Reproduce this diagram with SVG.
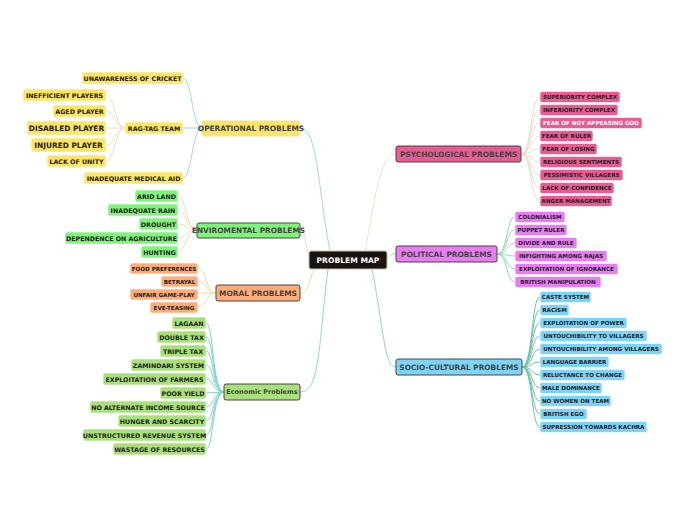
<svg xmlns="http://www.w3.org/2000/svg" width="697" height="520" viewBox="0 0 697 520">
<style>
text{font-family:"DejaVu Sans",Verdana,sans-serif;font-weight:bold;text-anchor:middle;dominant-baseline:central;fill:#222}
.lf{font-size:5.6px}
.lo{font-size:6.3px}
.mn{font-size:7.4px;fill:#444}
.c{fill:none;stroke-width:1}
rect{rx:2;ry:2}
.main{stroke:#444;stroke-width:1}
.y{fill:#ffe566}.g{fill:#80f47a}.o{fill:#ffac78}.e{fill:#a9e07c}.p{fill:#ea5a93}.v{fill:#e87cf2}.s{fill:#7ed4f8}
.leaf{stroke:#fff;stroke-width:.6}
</style>
<rect width="697" height="520" fill="#fff"/>
<g id="connectors">
<path class="c" stroke="#9fdccb" d="M330,251 C318,190 318,128 300,128"/>
<path class="c" stroke="#e6dfc4" d="M309,256 C304,240 306,230 300,230"/>
<path class="c" stroke="#f0dca0" d="M314,269 C306,290 308,293 300,293"/>
<path class="c" stroke="#8fd6d6" d="M328,269 C318,350 320,392 300,392"/>
<path class="c" stroke="#e6e6cc" d="M365,251 C375,200 380,154 396,154"/>
<path class="c" stroke="#9fdcb8" d="M387,258 C392,255 390,254 396,254"/>
<path class="c" stroke="#8fd6c8" d="M372,269 C384,330 384,367 396,367"/>
<g stroke="#9fdccb" class="c">
<path d="M202,128 C192,128 192,78 183,78"/><path d="M202,128 L183,128"/><path d="M202,128 C192,128 192,178 183,178"/>
</g>
<g stroke="#e6dfc4" class="c">
<path d="M125,128 C115,128 115,95 106,95"/><path d="M125,128 C115,128 115,111 106,111"/><path d="M125,128 L106,128"/><path d="M125,128 C115,128 115,145 106,145"/><path d="M125,128 C115,128 115,161 106,161"/>
<path d="M197,230 C186,230 186,196 178,196"/><path d="M197,230 C186,230 186,210 178,210"/><path d="M197,230 C186,230 186,224 178,224"/><path d="M197,230 C186,230 186,238 178,238"/><path d="M197,230 C186,230 186,252 178,252"/>
</g>
<g stroke="#f0dca0" class="c">
<path d="M216,293 C206,293 206,268 198,268"/><path d="M216,293 C206,293 206,281 198,281"/><path d="M216,293 L198,293"/><path d="M216,293 C206,293 206,307 198,307"/>
</g>
<g stroke="#7fd0d2" class="c">
<path d="M224,392 C212,392 214,323 206,323"/><path d="M224,392 C212,392 214,337 206,337"/><path d="M224,392 C212,392 214,351 206,351"/><path d="M224,392 C212,392 214,365 206,365"/><path d="M224,392 C212,392 214,379 206,379"/><path d="M224,392 L206,393"/><path d="M224,392 C212,392 214,407 206,407"/><path d="M224,392 C212,392 214,421 206,421"/><path d="M224,392 C212,392 214,435 206,435"/><path d="M224,392 C212,392 214,449 206,449"/>
</g>
<g stroke="#e6e0c8" class="c">
<path d="M521,154 C532,154 530,97 540,97"/><path d="M521,154 C532,154 530,110 540,110"/><path d="M521,154 C532,154 530,123 540,123"/><path d="M521,154 C532,154 530,136 540,136"/><path d="M521,154 C532,154 530,149 540,149"/><path d="M521,154 C532,154 530,162 540,162"/><path d="M521,154 C532,154 530,175 540,175"/><path d="M521,154 C532,154 530,188 540,188"/><path d="M521,154 C532,154 530,201 540,201"/>
</g>
<g stroke="#8fd6b8" class="c">
<path d="M497,254 C508,254 506,217 515,217"/><path d="M497,254 C508,254 506,230 515,230"/><path d="M497,254 C508,254 506,243 515,243"/><path d="M497,254 C508,254 506,256 515,256"/><path d="M497,254 C508,254 506,269 515,269"/><path d="M497,254 C508,254 506,282 515,282"/>
</g>
<g stroke="#6cc0a8" class="c">
<path d="M522,367 C533,367 531,297 540,297"/><path d="M522,367 C533,367 531,310 540,310"/><path d="M522,367 C533,367 531,323 540,323"/><path d="M522,367 C533,367 531,336 540,336"/><path d="M522,367 C533,367 531,349 540,349"/><path d="M522,367 C533,367 531,362 540,362"/><path d="M522,367 C533,367 531,375 540,375"/><path d="M522,367 C533,367 531,388 540,388"/><path d="M522,367 C533,367 531,401 540,401"/><path d="M522,367 C533,367 531,414 540,414"/><path d="M522,367 C533,367 531,427 540,427"/>
</g>
</g>
<g id="center"><rect x="309" y="251" width="78" height="18" fill="#1a1410" stroke="#c8bfa0"/><text x="348" y="260.5" style="font-size:7.6px;fill:#fff">PROBLEM MAP</text></g>
<g id="operational"><rect class="y" x="202" y="121" width="98" height="15" stroke="#eee0a0"/><text class="mn" x="251" y="128.5">OPERATIONAL PROBLEMS</text></g>
<g id="enviromental"><rect class="g main" x="197" y="223" width="103" height="15"/><text class="mn" x="248.5" y="230.5">ENVIROMENTAL PROBLEMS</text></g>
<g id="moral"><rect class="o main" x="216" y="285" width="84" height="16"/><text class="mn" x="258" y="293">MORAL PROBLEMS</text></g>
<g id="economic"><rect class="e main" x="224" y="384" width="76" height="16"/><text x="262" y="392" style="font-size:6.5px;fill:#444">Economic Problems</text></g>
<g id="psychological"><rect class="p main" x="396" y="146" width="125" height="16"/><text class="mn" x="458.5" y="154">PSYCHOLOGICAL PROBLEMS</text></g>
<g id="political"><rect class="v main" x="396" y="246" width="101" height="16"/><text class="mn" x="446.5" y="254">POLITICAL PROBLEMS</text></g>
<g id="sociocultural"><rect class="s main" x="396" y="359" width="126" height="16"/><text class="mn" x="459" y="367">SOCIO-CULTURAL PROBLEMS</text></g>
<g id="op-leaves">
<g id="unawareness"><rect class="y leaf" x="82" y="72" width="101" height="12"/><text class="lo" x="132.5" y="78">UNAWARENESS OF CRICKET</text></g>
<g id="ragtag"><rect class="y leaf" x="125" y="122" width="58" height="12"/><text class="lo" x="154" y="128">RAG-TAG TEAM</text></g>
<g id="medical"><rect class="y leaf" x="84" y="172" width="99" height="12"/><text class="lo" x="133.5" y="178">INADEQUATE MEDICAL AID</text></g>
<g id="inefficient"><rect class="y leaf" x="23" y="89" width="83" height="12"/><text class="lo" x="64.5" y="95">INEFFICIENT PLAYERS</text></g>
<g id="aged"><rect class="y leaf" x="53" y="105" width="53" height="12"/><text class="lo" x="79.5" y="111">AGED PLAYER</text></g>
<g id="disabled"><rect class="y leaf" x="27" y="121" width="79" height="14"/><text x="66.5" y="128" style="font-size:7.4px">DISABLED PLAYER</text></g>
<g id="injured"><rect class="y leaf" x="31" y="138" width="75" height="14"/><text x="68.5" y="145" style="font-size:7.4px">INJURED PLAYER</text></g>
<g id="unity"><rect class="y leaf" x="47" y="155" width="59" height="12"/><text class="lo" x="76.5" y="161">LACK OF UNITY</text></g>
</g>
<g id="env-leaves">
<g id="arid"><rect class="g leaf" x="135" y="190" width="43" height="12"/><text class="lo" x="156.5" y="196">ARID LAND</text></g>
<g id="rain"><rect class="g leaf" x="108" y="204" width="70" height="12"/><text class="lo" x="143" y="210">INADEQUATE RAIN</text></g>
<g id="drought"><rect class="g leaf" x="139" y="218" width="39" height="12"/><text class="lo" x="158.5" y="224">DROUGHT</text></g>
<g id="dependence"><rect class="g leaf" x="65" y="232" width="113" height="12"/><text class="lo" x="121.5" y="238">DEPENDENCE ON AGRICULTURE</text></g>
<g id="hunting"><rect class="g leaf" x="141" y="246" width="37" height="12"/><text class="lo" x="159.5" y="252">HUNTING</text></g>
</g>
<g id="moral-leaves">
<g id="food"><rect class="o leaf" x="130" y="263" width="68" height="11"/><text class="lf" x="164" y="268.5">FOOD PREFERENCES</text></g>
<g id="betrayal"><rect class="o leaf" x="161" y="276" width="37" height="11"/><text class="lf" x="179.5" y="281.5">BETRAYAL</text></g>
<g id="unfair"><rect class="o leaf" x="130" y="289" width="68" height="11"/><text class="lf" x="164" y="294.5">UNFAIR GAME-PLAY</text></g>
<g id="eve"><rect class="o leaf" x="150" y="302" width="48" height="11"/><text class="lf" x="174" y="307.5">EVE-TEASING</text></g>
</g>
<g id="econ-leaves">
<g id="lagaan"><rect class="e leaf" x="172" y="317" width="34" height="12"/><text class="lo" x="189" y="323">LAGAAN</text></g>
<g id="double"><rect class="e leaf" x="157" y="331" width="49" height="12"/><text class="lo" x="181.5" y="337">DOUBLE TAX</text></g>
<g id="triple"><rect class="e leaf" x="160" y="345" width="46" height="12"/><text class="lo" x="183" y="351">TRIPLE TAX</text></g>
<g id="zamindari"><rect class="e leaf" x="131" y="359" width="75" height="12"/><text class="lo" x="168.5" y="365">ZAMINDARI SYSTEM</text></g>
<g id="farmers"><rect class="e leaf" x="103" y="373" width="103" height="12"/><text class="lo" x="154.5" y="379">EXPLOITATION OF FARMERS</text></g>
<g id="yield"><rect class="e leaf" x="160" y="387" width="46" height="12"/><text class="lo" x="183" y="393">POOR YIELD</text></g>
<g id="income"><rect class="e leaf" x="90" y="401" width="116" height="12"/><text class="lo" x="148" y="407">NO ALTERNATE INCOME SOURCE</text></g>
<g id="hunger"><rect class="e leaf" x="118" y="415" width="88" height="12"/><text class="lo" x="162" y="421">HUNGER AND SCARCITY</text></g>
<g id="revenue"><rect class="e leaf" x="83" y="429" width="123" height="12"/><text class="lo" x="144.5" y="435">UNSTRUCTURED REVENUE SYSTEM</text></g>
<g id="wastage"><rect class="e leaf" x="113" y="443" width="93" height="12"/><text class="lo" x="159.5" y="449">WASTAGE OF RESOURCES</text></g>
</g>
<g id="psych-leaves">
<g id="sup"><rect class="p leaf" x="540" y="91.5" width="80" height="11"/><text class="lf" x="580" y="97">SUPERIORITY COMPLEX</text></g>
<g id="inf"><rect class="p leaf" x="540" y="104.5" width="78" height="11"/><text class="lf" x="579" y="110">INFERIORITY COMPLEX</text></g>
<g id="god"><rect class="p leaf" x="540" y="117.5" width="102" height="11"/><text class="lf" x="591" y="123" style="fill:#fff">FEAR OF NOT APPEASING GOD</text></g>
<g id="ruler"><rect class="p leaf" x="540" y="130.5" width="53" height="11"/><text class="lf" x="566.5" y="136">FEAR OF RULER</text></g>
<g id="losing"><rect class="p leaf" x="540" y="143.5" width="57" height="11"/><text class="lf" x="568.5" y="149">FEAR OF LOSING</text></g>
<g id="religious"><rect class="p leaf" x="540" y="156.5" width="82" height="11"/><text class="lf" x="581" y="162">RELIGIOUS SENTIMENTS</text></g>
<g id="pessimistic"><rect class="p leaf" x="540" y="169.5" width="83" height="11"/><text class="lf" x="581.5" y="175">PESSIMISTIC VILLAGERS</text></g>
<g id="confidence"><rect class="p leaf" x="540" y="182.5" width="74" height="11"/><text class="lf" x="577" y="188">LACK OF CONFIDENCE</text></g>
<g id="anger"><rect class="p leaf" x="540" y="195.5" width="72" height="11"/><text class="lf" x="576" y="201">ANGER MANAGEMENT</text></g>
</g>
<g id="pol-leaves">
<g id="colonialism"><rect class="v leaf" x="515" y="211.5" width="50" height="11"/><text class="lf" x="540" y="217">COLONIALISM</text></g>
<g id="puppet"><rect class="v leaf" x="515" y="224.5" width="52" height="11"/><text class="lf" x="541" y="230">PUPPET RULER</text></g>
<g id="divide"><rect class="v leaf" x="515" y="237.5" width="62" height="11"/><text class="lf" x="546" y="243">DIVIDE AND RULE</text></g>
<g id="infighting"><rect class="v leaf" x="515" y="250.5" width="92" height="11"/><text class="lf" x="561" y="256">INFIGHTING AMONG RAJAS</text></g>
<g id="ignorance"><rect class="v leaf" x="515" y="263.5" width="103" height="11"/><text class="lf" x="566.5" y="269">EXPLOITATION OF IGNORANCE</text></g>
<g id="manipulation"><rect class="v leaf" x="515" y="276.5" width="86" height="11"/><text class="lf" x="558" y="282">BRITISH MANIPULATION</text></g>
</g>
<g id="socio-leaves">
<g id="caste"><rect class="s leaf" x="540" y="291.5" width="51" height="11"/><text class="lf" x="565.5" y="297">CASTE SYSTEM</text></g>
<g id="racism"><rect class="s leaf" x="540" y="304.5" width="29" height="11"/><text class="lf" x="554.5" y="310">RACISM</text></g>
<g id="power"><rect class="s leaf" x="540" y="317.5" width="87" height="11"/><text class="lf" x="583.5" y="323">EXPLOITATION OF POWER</text></g>
<g id="untouch1"><rect class="s leaf" x="540" y="330.5" width="107" height="11"/><text class="lf" x="593.5" y="336">UNTOUCHIBILITY TO VILLAGERS</text></g>
<g id="untouch2"><rect class="s leaf" x="540" y="343.5" width="122" height="11"/><text class="lf" x="601" y="349">UNTOUCHIBILITY AMONG VILLAGERS</text></g>
<g id="language"><rect class="s leaf" x="540" y="356.5" width="69" height="11"/><text class="lf" x="574.5" y="362">LANGUAGE BARRIER</text></g>
<g id="reluctance"><rect class="s leaf" x="540" y="369.5" width="85" height="11"/><text class="lf" x="582.5" y="375">RELUCTANCE TO CHANGE</text></g>
<g id="male"><rect class="s leaf" x="540" y="382.5" width="62" height="11"/><text class="lf" x="571" y="388">MALE DOMINANCE</text></g>
<g id="women"><rect class="s leaf" x="540" y="395.5" width="71" height="11"/><text class="lf" x="575.5" y="401">NO WOMEN ON TEAM</text></g>
<g id="ego"><rect class="s leaf" x="540" y="408.5" width="47" height="11"/><text class="lf" x="563.5" y="414">BRITISH EGO</text></g>
<g id="kachra"><rect class="s leaf" x="540" y="421.5" width="107" height="11"/><text class="lf" x="593.5" y="427">SUPRESSION TOWARDS KACHRA</text></g>
</g>
</svg>
